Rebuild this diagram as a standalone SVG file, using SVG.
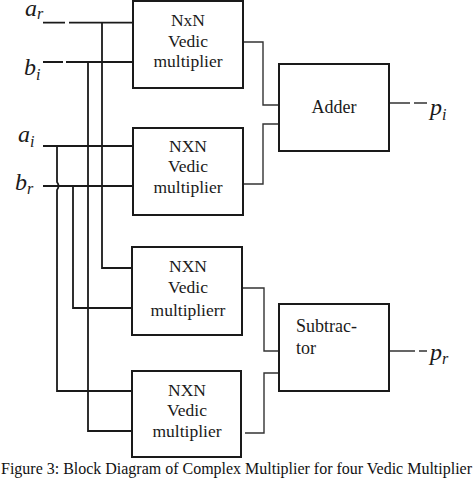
<svg xmlns="http://www.w3.org/2000/svg" width="474" height="488" viewBox="0 0 474 488">
<style>
.box{fill:#fff;stroke:#1a1a1a;stroke-width:2}
.w{fill:none;stroke:#1a1a1a;stroke-width:1.8}
.o{fill:none;stroke:#333;stroke-width:1.4}
.t{font-family:"Liberation Serif",serif;font-size:17.5px;fill:#1a1a1a;text-anchor:middle}
.v{font-family:"Liberation Serif",serif;font-style:italic;font-size:24px;fill:#1a1a1a}
.s{font-size:16px}
</style>
<rect width="474" height="488" fill="#fff"/>
<g id="connectors">
<path class="w" d="M43,22.7H65M69,22.7H133M43,62H63M66,62H133M43,146H133M43,186H133"/>
<path class="w" d="M102,22.7V268H133M88,62V431H133M73,186V308H133M57,146V182q3,4 0,8V391H133"/>
<path class="o" d="M242,42H263V105H279M242,184H263V124H279M242,288H264V351H279M245,433H264V373H279"/>
<path class="o" d="M389,103H410M414,103H427M389,351H415M419,351H427"/>
</g>
<g id="mult1"><rect class="box" x="133" y="1" width="110" height="87"/><text class="t" x="188" y="26">NxN</text><text class="t" x="188" y="47">Vedic</text><text class="t" x="188" y="67">multiplier</text></g>
<g id="mult2"><rect class="box" x="133" y="128" width="110" height="87"/><text class="t" x="188" y="152">NXN</text><text class="t" x="188" y="172">Vedic</text><text class="t" x="188" y="193">multiplier</text></g>
<g id="mult3"><rect class="box" x="132" y="247" width="110" height="88"/><text class="t" x="188" y="272">NXN</text><text class="t" x="188" y="293">Vedic</text><text class="t" x="188" y="316">multiplierr</text></g>
<g id="mult4"><rect class="box" x="132" y="371" width="109" height="86"/><text class="t" x="187" y="396">NXN</text><text class="t" x="187" y="416">Vedic</text><text class="t" x="187" y="437">multiplier</text></g>
<g id="adder"><rect class="box" x="279" y="64" width="110" height="87"/><text class="t" x="334" y="113" style="font-size:18px">Adder</text></g>
<g id="subtractor"><rect class="box" x="279" y="304" width="110" height="87"/><text class="t" x="296" y="332" style="font-size:18px;text-anchor:start">Subtrac-</text><text class="t" x="296" y="354" style="font-size:18px;text-anchor:start">tor</text></g>
<g id="labels">
<text class="v" x="25" y="16">a<tspan class="s" dy="3">r</tspan></text>
<text class="v" x="24" y="75">b<tspan class="s" dy="5">i</tspan></text>
<text class="v" x="18" y="142">a<tspan class="s" dy="5">i</tspan></text>
<text class="v" x="15" y="190">b<tspan class="s" dy="4">r</tspan></text>
<text class="v" x="430" y="115">p<tspan class="s" dy="5">i</tspan></text>
<text class="v" x="430" y="360">p<tspan class="s" dy="4">r</tspan></text>
</g>
<text x="1" y="474" textLength="471" lengthAdjust="spacingAndGlyphs" style="font-family:'Liberation Serif',serif;font-size:16px;fill:#111">Figure 3: Block Diagram of Complex Multiplier for four Vedic Multiplier</text>
</svg>
